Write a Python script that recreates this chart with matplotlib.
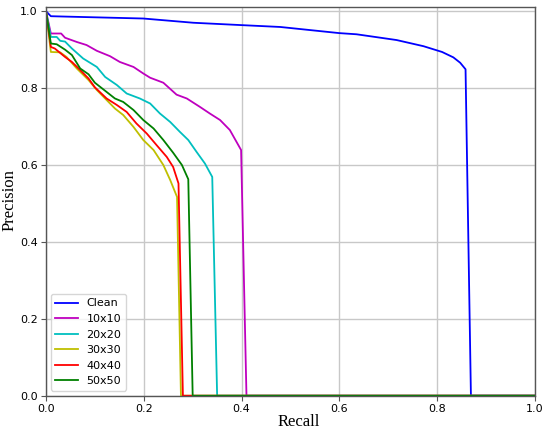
import matplotlib
matplotlib.use("Agg")
import matplotlib.pyplot as plt

labels = ["Clean", "10x10", "20x20", "30x30", "40x40", "50x50"]
colors = ["b", "m", "c", "y", "r", "g"]

clean_r = [0.0, 0.010, 0.040, 0.199, 0.301, 0.397, 0.479, 0.600, 0.635, 0.717, 0.772, 0.810, 0.833, 0.847, 0.858, 0.869, 1.0]
clean_p = [1.0, 0.987, 0.986, 0.981, 0.970, 0.964, 0.959, 0.943, 0.940, 0.925, 0.909, 0.894, 0.880, 0.866, 0.849, 0.0, 0.0]

r10_r = [0.0, 0.010, 0.031, 0.039, 0.063, 0.083, 0.104, 0.131, 0.151, 0.179, 0.199, 0.213, 0.240, 0.267, 0.288, 0.315, 0.335, 0.356, 0.376, 0.399, 0.410, 1.0]
r10_p = [1.0, 0.942, 0.942, 0.931, 0.920, 0.912, 0.897, 0.883, 0.868, 0.855, 0.838, 0.827, 0.814, 0.783, 0.773, 0.751, 0.734, 0.717, 0.691, 0.639, 0.0, 0.0]

r20_r = [0.0, 0.010, 0.022, 0.029, 0.039, 0.053, 0.076, 0.104, 0.121, 0.145, 0.165, 0.192, 0.213, 0.233, 0.254, 0.274, 0.291, 0.308, 0.325, 0.340, 0.350, 1.0]
r20_p = [1.0, 0.933, 0.933, 0.923, 0.921, 0.903, 0.877, 0.855, 0.829, 0.808, 0.786, 0.773, 0.760, 0.734, 0.712, 0.686, 0.665, 0.634, 0.604, 0.569, 0.0, 0.0]

r30_r = [0.0, 0.010, 0.029, 0.042, 0.063, 0.087, 0.104, 0.124, 0.141, 0.158, 0.179, 0.199, 0.220, 0.240, 0.254, 0.268, 0.276, 1.0]
r30_p = [1.0, 0.894, 0.893, 0.881, 0.851, 0.821, 0.795, 0.769, 0.747, 0.730, 0.699, 0.665, 0.639, 0.600, 0.561, 0.517, 0.0, 0.0]

r40_r = [0.0, 0.010, 0.018, 0.039, 0.053, 0.070, 0.087, 0.100, 0.124, 0.145, 0.165, 0.185, 0.206, 0.226, 0.247, 0.260, 0.271, 0.280, 1.0]
r40_p = [1.0, 0.907, 0.903, 0.881, 0.868, 0.847, 0.825, 0.802, 0.773, 0.756, 0.738, 0.708, 0.682, 0.652, 0.621, 0.595, 0.552, 0.0, 0.0]

r50_r = [0.0, 0.010, 0.022, 0.039, 0.053, 0.070, 0.087, 0.100, 0.124, 0.141, 0.158, 0.179, 0.199, 0.220, 0.240, 0.260, 0.278, 0.291, 0.300, 1.0]
r50_p = [1.0, 0.916, 0.914, 0.900, 0.886, 0.851, 0.836, 0.814, 0.790, 0.773, 0.764, 0.743, 0.717, 0.695, 0.665, 0.632, 0.600, 0.563, 0.0, 0.0]

x_ticks = [0.0, 0.2, 0.4, 0.6, 0.8, 1.0]
y_ticks = [0.0, 0.2, 0.4, 0.6, 0.8, 1.0]

series = [(clean_r, clean_p), (r10_r, r10_p), (r20_r, r20_p),
          (r30_r, r30_p), (r40_r, r40_p), (r50_r, r50_p)]

fig = plt.figure(figsize=(5.5, 4.33), dpi=100)
ax = fig.add_axes([0.0836, 0.0861, 0.8891, 0.8969])

for (r, p), lab, c in zip(series, labels, colors):
    ax.plot(r, p, color=c, lw=1.3, label=lab)

ax.set_xlim(0, 1.0)
ax.set_ylim(0, 1.01)
ax.set_xticks(x_ticks)
ax.set_yticks(y_ticks)
ax.tick_params(labelsize=8, length=3.5, color="#555555", pad=2.5)
ax.grid(True, color="#c8c8c8", lw=1.0)
for s in ax.spines.values():
    s.set_color("#555555")
    s.set_linewidth(1.0)

ax.set_xlabel("Recall", family="Liberation Serif", fontsize=12)
ax.set_ylabel("Precision", family="Liberation Serif", fontsize=12)
ax.xaxis.set_label_coords(0.517, -0.048)
ax.yaxis.set_label_coords(-0.058, 0.5026)

leg = ax.legend(loc="lower left", fontsize=8, borderaxespad=0.45, handlelength=2.0,
                labelspacing=0.5)

fig.savefig("out.png", dpi=100)
